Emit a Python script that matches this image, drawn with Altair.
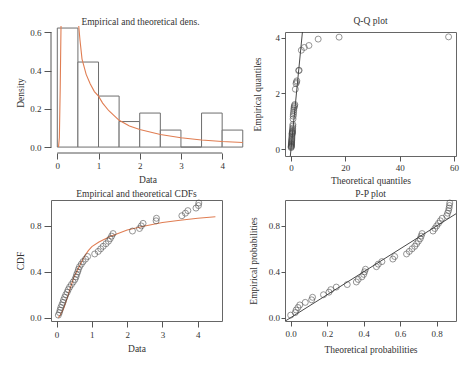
import altair as alt
import numpy as np
import pandas as pd

FONT = "Liberation Serif"
ORANGE = "#e07d52"
INK = "#444444"

obs = [0.05, 0.08, 0.10, 0.12, 0.15, 0.18, 0.20, 0.23, 0.26, 0.30, 0.33, 0.37, 0.42, 0.47,
       0.52, 0.55, 0.57, 0.60, 0.62, 0.65, 0.70, 0.75, 0.82, 0.88,
       1.08, 1.18, 1.25, 1.32, 1.40, 1.47, 1.52, 1.56, 1.60,
       2.15, 2.35, 2.40, 2.45, 2.82, 2.83, 3.55, 3.65, 3.72, 3.95, 4.02, 4.03]

# theoretical quantiles (Q-Q plot, x) for each sorted observation
theo_quant = [0.06, 0.08, 0.10, 0.12, 0.14, 0.16, 0.18, 0.20, 0.22, 0.25, 0.27, 0.30, 0.33, 0.36,
              0.39, 0.42, 0.45, 0.48, 0.51, 0.54, 0.57, 0.61, 0.65, 0.70,
              0.75, 0.81, 0.87, 0.94, 1.02, 1.10, 1.19, 1.29, 1.40,
              1.60, 1.85, 2.00, 2.15, 2.80, 3.00, 3.80, 4.90, 6.60, 10.0, 17.7, 58.0]

# theoretical probabilities (P-P plot, x) for each sorted observation
theo_prob = [0.00, 0.025, 0.03, 0.04, 0.05, 0.08, 0.115, 0.12, 0.18, 0.21, 0.22, 0.25, 0.31, 0.36,
             0.37, 0.39, 0.40, 0.405, 0.41, 0.47, 0.48, 0.50, 0.56, 0.57,
             0.635, 0.65, 0.665, 0.68, 0.69, 0.70, 0.71, 0.715, 0.72,
             0.78, 0.79, 0.80, 0.81, 0.82, 0.83, 0.855, 0.86, 0.865, 0.868, 0.87, 0.872]

# histogram breaks
breaks = [0.0, 0.5, 1.0, 1.5, 2.0, 2.5, 3.0, 3.5, 4.0, 4.5]

# theoretical density curve (two visible pieces: the rise near 0 and the decaying tail)
dens_rise_x = [0.03, 0.05, 0.07, 0.09]
dens_rise_y = [0.0, 0.05, 0.30, 0.633]
dens_tail_x = [0.52, 0.55, 0.60, 0.70, 0.80, 0.90, 1.00, 1.10, 1.25, 1.50, 1.75, 2.00, 2.50, 3.00, 3.50, 4.00, 4.50]
dens_tail_y = [0.633, 0.56, 0.46, 0.38, 0.33, 0.29, 0.266, 0.23, 0.19, 0.14, 0.11, 0.092, 0.066, 0.049, 0.037, 0.029, 0.024]

# theoretical CDF curve
cdf_x = [0.05, 0.10, 0.20, 0.30, 0.40, 0.50, 0.60, 0.70, 0.80, 0.90, 1.00, 1.20, 1.50, 2.00, 2.50, 3.00, 3.50, 4.00, 4.50]
cdf_y = [0.00, 0.02, 0.08, 0.17, 0.27, 0.36, 0.42, 0.48, 0.54, 0.585, 0.62, 0.66, 0.705, 0.765, 0.80, 0.83, 0.85, 0.867, 0.88]

# reference line y = x
ref_qq = [-5.0, 10.0]
ref_pp = [-0.1, 1.1]

n = len(obs)
ecdf = [(i + 1) / n for i in range(n)]

# ---------------- panel 1: histogram + density ----------------
counts, _ = np.histogram(obs, bins=breaks)
width_bin = breaks[1] - breaks[0]
hist_df = pd.DataFrame({
    "lo": breaks[:-1], "hi": breaks[1:],
    "base": [0.0] * (len(breaks) - 1),
    "dens": counts / (n * width_bin),
})
dens_df = pd.concat([
    pd.DataFrame({"x": dens_rise_x, "y": dens_rise_y, "seg": "a"}),
    pd.DataFrame({"x": dens_tail_x, "y": dens_tail_y, "seg": "b"}),
])

x1_dom = [-0.153, 4.53]
y1_dom = [-0.031, 0.6015]
x1 = alt.Scale(domain=x1_dom, nice=False, zero=False)
y1 = alt.Scale(domain=y1_dom, nice=False, zero=False)

y1_axis = alt.Axis(values=[0, 0.1, 0.2, 0.3, 0.4, 0.5, 0.6], title="Density", tickSize=7,
                   labelPadding=3, titlePadding=4, labelOverlap=False,
                   labelExpr="round(datum.value*10) % 2 == 0 ? format(datum.value, '.1f') : ''")
x1_axis = alt.Axis(values=[0, 1, 2, 3, 4], title="Data", tickSize=6, labelPadding=2,
                   titlePadding=4.5, format="d")

bars = alt.Chart(hist_df).mark_rect(fill="white", stroke="#6e6e6e", strokeWidth=1).encode(
    x=alt.X("lo:Q", scale=x1, axis=x1_axis),
    x2="hi:Q",
    y=alt.Y("base:Q", scale=y1, axis=y1_axis),
    y2="dens:Q",
)
dens_line = alt.Chart(dens_df).mark_line(color=ORANGE, strokeWidth=1.1).encode(
    x=alt.X("x:Q", scale=x1), y=alt.Y("y:Q", scale=y1), detail="seg:N", order="x:Q"
)
one = pd.DataFrame({"k": [0]})
yline1 = alt.Chart(one).mark_rule(color="#555", strokeWidth=1).encode(
    x=alt.datum(x1_dom[0], scale=x1), y=alt.datum(0.0), y2=alt.datum(0.6)
)
xline1 = alt.Chart(one).mark_rule(color="#555", strokeWidth=1).encode(
    y=alt.datum(y1_dom[0]), x=alt.datum(0.0), x2=alt.datum(4.0)
)
p1 = alt.layer(bars, dens_line, yline1, xline1).properties(
    width=193, height=121,
    title=alt.TitleParams("Empirical and theoretical dens.", offset=-3, frame="group", dx=-7),
    view=alt.ViewBackground(stroke="transparent"),
)

# ---------------- panel 2: Q-Q plot ----------------
qq_df = pd.DataFrame({"t": theo_quant, "e": obs})
x2s = alt.Scale(domain=[-2.21, 60.73], nice=False, zero=False)
y2s = alt.Scale(domain=[-0.25, 4.205], nice=False, zero=False)
qq_pts = alt.Chart(qq_df).mark_point(shape="circle", filled=False, color=INK, size=36, strokeWidth=0.8).encode(
    x=alt.X("t:Q", scale=x2s, axis=alt.Axis(values=[0, 10, 20, 30, 40, 50, 60], title="Theoretical quantiles",
                                            tickSize=5, labelPadding=2, titlePadding=3.5)),
    y=alt.Y("e:Q", scale=y2s, axis=alt.Axis(values=[0, 1, 2, 3, 4], title="Empirical quantiles",
                                            tickSize=4, labelPadding=1.5, titlePadding=13)),
)
qq_ref = alt.Chart(pd.DataFrame({"a": ref_qq})).mark_line(color="#333", strokeWidth=0.9, clip=True).encode(
    x=alt.X("a:Q", scale=x2s), y=alt.Y("a:Q", scale=y2s)
)
p2 = alt.layer(qq_ref, qq_pts).properties(
    width=171, height=124, title=alt.TitleParams("Q-Q plot", offset=7, frame="group")
)

# ---------------- panel 3: CDFs ----------------
ecdf_df = pd.DataFrame({"x": obs, "p": ecdf})
cdf_df = pd.DataFrame({"x": cdf_x, "p": cdf_y})
x3s = alt.Scale(domain=[-0.158, 4.687], nice=False, zero=False)
y3s = alt.Scale(domain=[-0.029, 1.026], nice=False, zero=False)
prob_labels = "round(datum.value*10) % 4 == 0 ? format(datum.value, '.1f') : ''"
cdf_line = alt.Chart(cdf_df).mark_line(color=ORANGE, strokeWidth=1.1).encode(
    x=alt.X("x:Q", scale=x3s, axis=alt.Axis(values=[0, 1, 2, 3, 4], title="Data", tickSize=6,
                                            labelPadding=3.5, titlePadding=3.5, format="d")),
    y=alt.Y("p:Q", scale=y3s, axis=alt.Axis(values=[0, 0.2, 0.4, 0.6, 0.8, 1.0], title="CDF", tickSize=7,
                                            labelPadding=3, titlePadding=4, labelOverlap=False,
                                            labelExpr=prob_labels)),
)
ecdf_pts = alt.Chart(ecdf_df).mark_point(shape="circle", filled=False, color=INK, size=36, strokeWidth=0.8).encode(
    x=alt.X("x:Q", scale=x3s), y=alt.Y("p:Q", scale=y3s)
)
p3 = alt.layer(cdf_line, ecdf_pts).properties(
    width=171, height=121,
    title=alt.TitleParams("Empirical and theoretical CDFs", offset=-0.5, frame="group"),
)

# ---------------- panel 4: P-P plot ----------------
pp_df = pd.DataFrame({"t": theo_prob, "e": ecdf})
x4s = alt.Scale(domain=[-0.031, 0.906], nice=False, zero=False)
y4s = alt.Scale(domain=[-0.029, 1.026], nice=False, zero=False)
pp_pts = alt.Chart(pp_df).mark_point(shape="circle", filled=False, color=INK, size=36, strokeWidth=0.8).encode(
    x=alt.X("t:Q", scale=x4s, axis=alt.Axis(values=[0, 0.2, 0.4, 0.6, 0.8], title="Theoretical probabilities",
                                            tickSize=5, labelPadding=3, titlePadding=6.5, format=".1f")),
    y=alt.Y("e:Q", scale=y4s, axis=alt.Axis(values=[0, 0.2, 0.4, 0.6, 0.8, 1.0], title="Empirical probabilities",
                                            tickSize=4, labelPadding=1.5, titlePadding=10, labelOverlap=False,
                                            labelExpr=prob_labels)),
)
pp_ref = alt.Chart(pd.DataFrame({"a": ref_pp})).mark_line(color="#333", strokeWidth=0.9, clip=True).encode(
    x=alt.X("a:Q", scale=x4s), y=alt.Y("a:Q", scale=y4s)
)
p4 = alt.layer(pp_ref, pp_pts).properties(
    width=171, height=121, title=alt.TitleParams("P-P plot", offset=-0.5, frame="group")
)

chart = alt.concat(
    p1, p2, p3, p4, columns=2, spacing={"row": 44, "column": 41}, bounds="flush"
).properties(
    padding={"left": 7, "top": 7, "right": 4, "bottom": 4},
    background="white",
).configure_axis(
    labelFont=FONT, titleFont=FONT, labelFontSize=9, titleFontSize=9.5,
    labelColor="#333", titleColor="#333", tickColor="#555", tickWidth=1,
    grid=False, domain=False, titleFontWeight="normal",
).configure_title(
    font=FONT, fontSize=9.5, color="#333", fontWeight="normal", anchor="middle"
).configure_view(
    stroke="#666", strokeWidth=1
)

chart.save("out.html", embed_options={"renderer": "svg", "actions": False})
